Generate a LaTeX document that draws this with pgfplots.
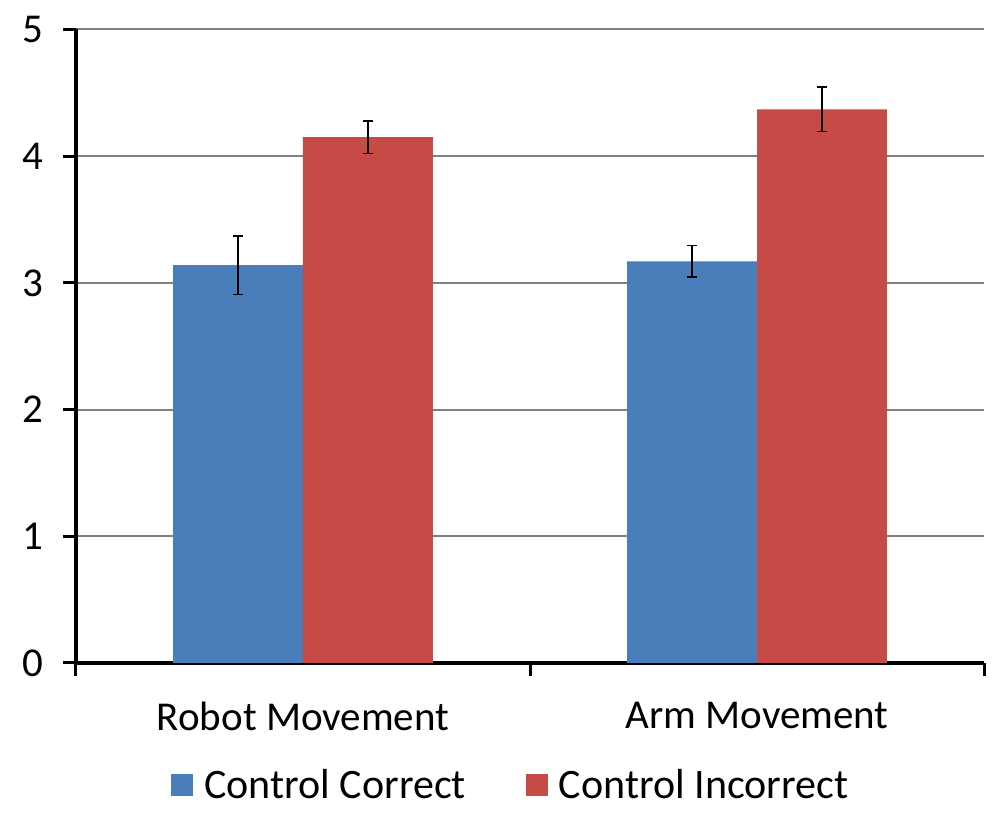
\documentclass[border=0pt]{standalone}
\usepackage{fontspec}
\setmainfont{Carlito}
\usepackage{pgfplots}
\pgfplotsset{compat=1.18}
\definecolor{ccorrect}{HTML}{4A7EBB}
\definecolor{cincorrect}{HTML}{C64B47}
\newcommand{\chartfont}{\fontsize{20.5}{24}\selectfont}
\begin{document}
\begin{tikzpicture}
\useasboundingbox (-38pt,-79.5pt) rectangle (458pt,331.5pt);
\begin{axis}[
  at={(0,0)}, anchor=south west,
  scale only axis, width=454pt, height=316.75pt,
  xmin=-0.5, xmax=1.5, ymin=0, ymax=5,
  axis lines=left,
  axis line style={-, line width=1.6pt, black},
  tick align=outside,
  major tick length=6.5pt,
  tick style={black, line width=1.5pt},
  ytick={0,1,2,3,4,5},
  ymajorgrids,
  major grid style={line width=1pt, color=black!50},
  xtick={-0.5,0.5,1.5},
  xticklabels={},
  extra x ticks={0,1},
  extra x tick labels={Robot Movement, Arm Movement},
  extra x tick style={grid=none, major tick length=0pt,
    xticklabel style={yshift=-16pt}},
  /pgf/number format/assume math mode=true,
  ticklabel style={font=\chartfont},
  yticklabel style={xshift=-6.5pt},
  legend style={at={(0.48,-0.193)}, anchor=center, draw=none,
    font=\fontsize{21}{24}\selectfont, inner sep=0pt,
    /tikz/every even column/.append style={column sep=28pt}},
  legend columns=2,
  legend cell align=left,
]
% bars placed at category -/+ 0.143 so the error bars sit on the bar centres
\addplot[ybar, fill=ccorrect, draw=none, bar width=0.286, bar shift=0pt,
  legend image code/.code={\fill[ccorrect] (0pt,-5.5pt) rectangle (11pt,5.5pt);
    \path (14.5pt,0pt);},
  error bars/.cd, y dir=both, y explicit,
  error bar style={black, line width=0.7pt},
  error mark options={rotate=90, mark size=2.5pt, line width=0.7pt, black}]
  coordinates {(-0.143,3.14) +- (0,0.23) (0.857,3.17) +- (0,0.125)};
\addlegendentry{Control Correct}
\addplot[ybar, fill=cincorrect, draw=none, bar width=0.286, bar shift=0pt,
  legend image code/.code={\fill[cincorrect] (0pt,-5.5pt) rectangle (11pt,5.5pt);
    \path (14.5pt,0pt);},
  error bars/.cd, y dir=both, y explicit,
  error bar style={black, line width=0.7pt},
  error mark options={rotate=90, mark size=2.5pt, line width=0.7pt, black}]
  coordinates {(0.143,4.15) +- (0,0.127) (1.143,4.37) +- (0,0.175)};
\addlegendentry{Control Incorrect}
\end{axis}
\end{tikzpicture}
\end{document}
